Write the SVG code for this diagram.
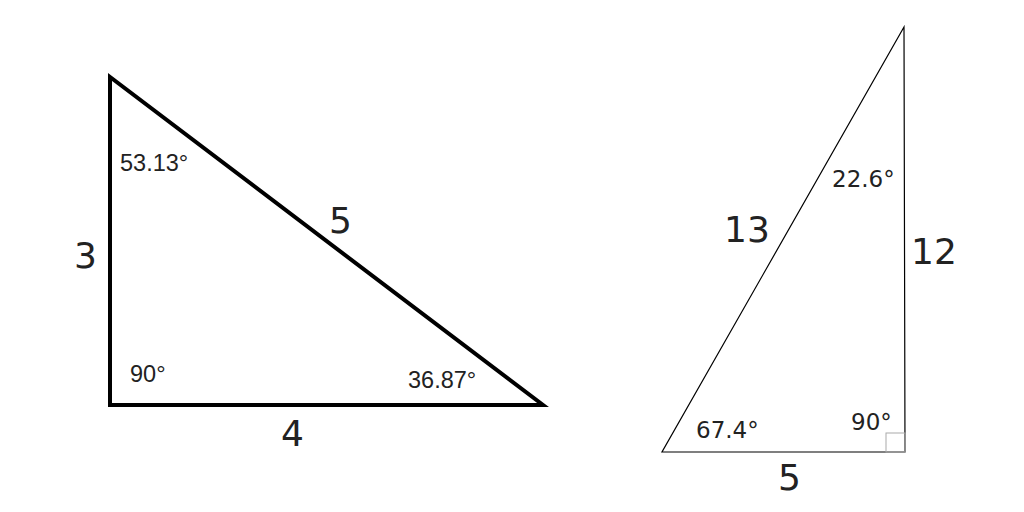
<svg xmlns="http://www.w3.org/2000/svg" width="1024" height="512" viewBox="0 0 1024 512">
<style>
.thick{fill:none;stroke:#000;stroke-width:4;stroke-linejoin:miter}
.thin{fill:none;stroke:#000;stroke-width:1.2}
.ang{font-family:"Liberation Sans",Arial,sans-serif;font-size:23.5px;fill:#222}
.ang2{font-family:"DejaVu Sans",sans-serif;font-size:23px;fill:#222}
.side{font-family:"DejaVu Sans",sans-serif;font-size:36px;fill:#222}
</style>
<rect width="1024" height="512" fill="#fff"/>
<g id="triangle-3-4-5">
<polygon class="thick" points="110,77 110,405 543,405"/>
<text class="ang" x="120" y="171">53.13°</text>
<text class="ang" x="130" y="382">90°</text>
<text class="ang" x="408" y="388">36.87°</text>
<text class="side" x="74" y="268">3</text>
<text class="side" x="329" y="233">5</text>
<text class="side" x="281" y="446">4</text>
</g>
<g id="triangle-5-12-13">
<polygon class="thin" points="904,27 905,452 662,452"/>
<rect x="886" y="433" width="19" height="19" fill="none" stroke="#aaa" stroke-width="1"/>
<text class="ang2" x="832" y="187">22.6°</text>
<text class="ang2" x="696" y="438">67.4°</text>
<text class="ang2" x="851" y="430">90°</text>
<text class="side" x="724" y="242">13</text>
<text class="side" x="911" y="264">12</text>
<text class="side" x="778" y="490">5</text>
</g>
</svg>
